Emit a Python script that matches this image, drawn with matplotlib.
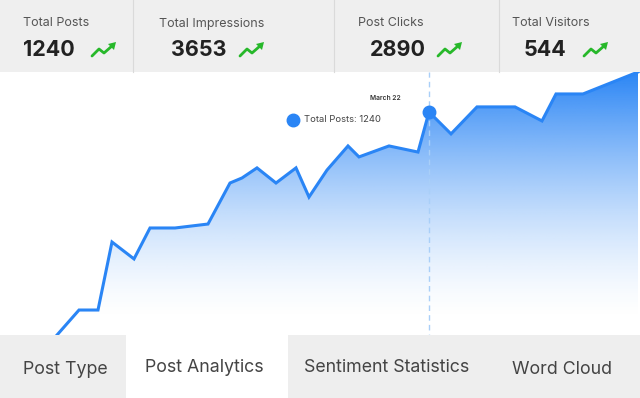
import numpy as np
import matplotlib.pyplot as plt
from matplotlib.patches import Rectangle, Polygon
from matplotlib.colors import to_rgb

plt.rcParams['font.family'] = ['Inter', 'DejaVu Sans']

# summary cards
card_labels = ["Total Posts", "Total Impressions", "Post Clicks", "Total Visitors"]
card_values = ["1240", "3653", "2890", "544"]

# tabs
tab_labels = ["Post Type", "Post Analytics", "Sentiment Statistics", "Word Cloud"]

# post count over time (day index, total posts)
days = [5.7, 7.9, 9.8, 11.2, 13.4, 15.0, 17.5, 20.8, 23.0, 24.2, 25.7, 27.6, 29.6,
        30.9, 32.7, 34.8, 35.9, 38.9, 41.8, 42.9, 45.1, 47.7, 51.5, 54.2, 55.6,
        58.3, 63.8]
posts = [0, 139, 139, 517, 423, 595, 595, 617, 845, 873, 929, 845, 929,
         767, 917, 1051, 990, 1051, 1017, 1240, 1118, 1268, 1268, 1190, 1340,
         1340, 1462]
hover_day = 42.9
hover_label = "March 22"

blue = "#2a85f5"
W, H = 640, 398
fig = plt.figure(figsize=(W / 100, H / 100), dpi=100)

# chart axes (pixel rows 72..398)
ax = fig.add_axes([0, 0, 1, (H - 72) / H])
ymin, ymax = -350, 1462
ax.set_xlim(0, 64)
ax.set_ylim(ymin, ymax)
ax.axis('off')

# gradient fill under the line
poly = ax.fill_between(days, posts, ymin, color='none', lw=0)
yy = np.linspace(ymin, ymax, 400)
t = np.clip((yy - 83) / (ymax - 83), 0, 1) ** 1.5
img = np.ones((len(yy), 2, 4))
img[:, :, :3] = to_rgb(blue)
img[:, :, 3] = t[:, None]
im = ax.imshow(img, extent=[0, 64, ymin, ymax], origin='lower', aspect='auto', zorder=1)
path = poly.get_paths()[0]
im.set_clip_path(path, transform=ax.transData)

ax.plot(days, posts, color=blue, lw=2.2, zorder=3, solid_joinstyle='miter')
ax.axvline(hover_day, color="#a9cff8", lw=1, ls=(0, (4, 3)), zorder=2)
hover_val = posts[days.index(hover_day)]
ax.plot([hover_day], [hover_val], 'o', color=blue, ms=9, zorder=4)

# overlay in pixel coordinates for header, tabs and tooltip
ov = fig.add_axes([0, 0, 1, 1], zorder=5)
ov.set_xlim(0, W)
ov.set_ylim(H, 0)
ov.axis('off')
ov.patch.set_alpha(0)

ov.add_patch(Rectangle((0, 0), W, 72, color="#efefef", lw=0))
for sx in [133, 334, 499]:
    ov.plot([sx, sx], [0, 72], color="#dadada", lw=0.8)

label_x = [23, 159, 358, 512]
value_x = [23, 171, 370, 524]
arrow_x = [92, 240, 438, 584]
green = "#27b82a"
for lab, val, lx, vx, axx in zip(card_labels, card_values, label_x, value_x, arrow_x):
    ov.text(lx, 23.5, lab, fontsize=9.0, color="#555555", va='center', ha='left')
    ov.text(vx, 50.5, val, fontsize=15.5, color="#222222", fontweight='bold', va='center', ha='left')
    ov.plot([axx, axx + 7, axx + 12, axx + 20], [56, 49, 53, 46], color=green, lw=2,
            solid_capstyle='round', solid_joinstyle='round')
    ov.add_patch(Polygon([[axx + 16, 44], [axx + 24, 42], [axx + 22, 50]], closed=True,
                         color=green, lw=0))

# tooltip
ov.plot([293], [120], 'o', color=blue, ms=9)
ov.text(304, 119, "Total Posts: 1240", fontsize=6.8, color="#444444", va='center', ha='left')
ov.text(370, 98, hover_label, fontsize=4.8, color="#333333", va='center', ha='left',
        fontweight='semibold')

# tabs
tab_edges = [0, 126, 288, 473, W]
tab_x = [23, 145, 304, 512]
tab_y = [369.5, 367.5, 367.5, 369.5]
for i, (lab, tx, ty) in enumerate(zip(tab_labels, tab_x, tab_y)):
    fc = "#ffffff" if i == 1 else "#eeeeee"
    ov.add_patch(Rectangle((tab_edges[i], 335), tab_edges[i + 1] - tab_edges[i], H - 335,
                           color=fc, lw=0))
    ov.text(tx, ty, lab, fontsize=12.8, color="#444444", va='center', ha='left')

fig.savefig("out.png", dpi=100)
